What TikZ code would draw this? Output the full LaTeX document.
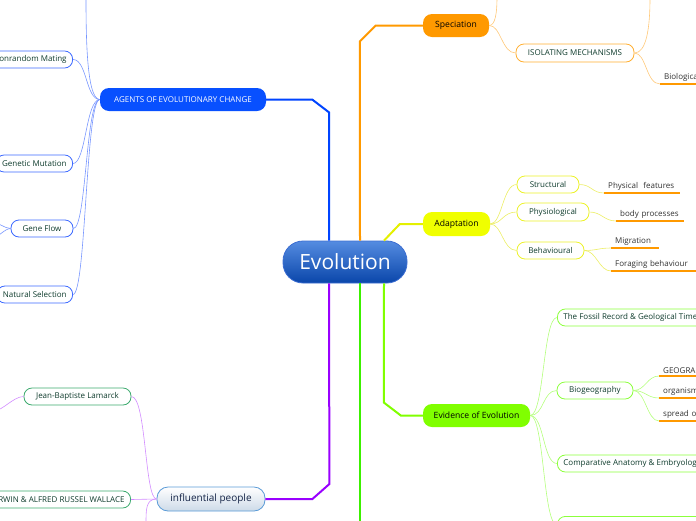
\documentclass[tikz,border=0pt]{standalone}
\usepackage{fontspec}
\setmainfont{Open Sans}
\setsansfont{Open Sans}
\usepackage{tikz}
\definecolor{cagent}{RGB}{8,80,255}
\definecolor{cagentln}{RGB}{0,68,255}
\definecolor{cagenttw}{RGB}{120,150,255}
\definecolor{cagentbd}{RGB}{60,105,255}
\definecolor{cspec}{RGB}{255,153,0}
\definecolor{cspectw}{RGB}{255,200,120}
\definecolor{cspecbd}{RGB}{255,175,50}
\definecolor{cadapt}{RGB}{240,255,0}
\definecolor{cadaptln}{RGB}{228,240,0}
\definecolor{cadapttw}{RGB}{236,238,100}
\definecolor{cadaptbd}{RGB}{236,242,40}
\definecolor{cevid}{RGB}{128,255,0}
\definecolor{cevidtw}{RGB}{180,255,125}
\definecolor{cevidbd}{RGB}{140,255,60}
\definecolor{cgreen}{RGB}{60,240,0}
\definecolor{cppl}{RGB}{153,0,255}
\definecolor{cppltw}{RGB}{210,140,255}
\definecolor{cpplbd}{RGB}{60,170,110}
\definecolor{cdark}{RGB}{15,60,45}
\definecolor{cleaf}{RGB}{50,50,50}
\definecolor{cevtop}{RGB}{85,140,225}
\definecolor{cevbot}{RGB}{10,70,170}
\definecolor{cevln}{RGB}{60,110,210}
\definecolor{cipbot}{RGB}{205,218,232}
\definecolor{cipln}{RGB}{90,155,215}
\definecolor{cnavy}{RGB}{20,35,70}

\begin{document}
\begin{tikzpicture}[
  x=1pt,y=-1pt,
  font=\fontsize{8}{9.5}\selectfont,
  root/.style={top color=cevtop,bottom color=cevbot,draw=cevln,line width=0.8pt,text=white,
    font=\fontsize{21}{25}\selectfont,rounded corners=20pt,minimum width=124pt,minimum height=42pt},
  topic/.style={rounded corners=9pt,minimum height=23pt,inner xsep=6pt,font=\fontsize{8.6}{10}\selectfont},
  sub/.style={draw=#1,line width=0.8pt,fill=white,rounded corners=8pt,minimum height=17pt,
    text=cdark,inner xsep=6pt},
  leaf/.style={text width=#1,align=left,inner xsep=4pt,inner ysep=2.5pt,text=cleaf,anchor=south west},
  trunk/.style={line width=2pt},
  twig/.style={line width=0.6pt},
  uline/.style={cspec,line width=1.2pt},
]
\useasboundingbox (0,0) rectangle (696,520);
\clip (0,0) rectangle (696,520);

% central topic and main branches
\node[root] (evo) at (345,262) {Evolution};
\node[topic,fill=cagent,text=white,minimum width=166pt,font=\fontsize{8}{9.5}\selectfont] (ag) at (183,99.5) {AGENTS OF EVOLUTIONARY CHANGE};
\node[topic,fill=cspec,minimum width=66pt] (sp) at (456,25.5) {Speciation};
\node[topic,fill=cadapt,minimum width=67pt,minimum height=24pt] (ad) at (456.5,224) {Adaptation};
\node[topic,fill=cevid,minimum width=107pt] (ev) at (476.5,415.5) {Evidence of Evolution};
\node[topic,top color=white,bottom color=cipbot,draw=cipln,line width=0.8pt,rounded corners=11pt,
  minimum width=108pt,minimum height=24pt,text=cnavy,font=\fontsize{10}{12}\selectfont] (ip) at (211,499) {influential people};

% agents of change
\node[sub=cagentbd,anchor=east] (nm) at (73,59.5) {Nonrandom Mating};
\node[sub=cagentbd,anchor=east] (gm) at (73,163.5) {Genetic Mutation};
\node[sub=cagentbd,minimum width=62pt] (gf) at (42,228.5) {Gene Flow};
\node[sub=cagentbd,anchor=east] (ns) at (73,294.5) {Natural Selection};
\coordinate (atop) at (86,-2);
\coordinate (gfa) at (-8,222);
\coordinate (gfb) at (-8,238);

% speciation
\node[sub=cspecbd,minimum width=118pt,minimum height=18pt] (iso) at (575,53) {ISOLATING MECHANISMS};
\node[leaf=60pt] (bio) at (660,84) {Biological};
\coordinate (stop) at (497,-2);
\coordinate (itop) at (650,-2);

% adaptation
\node[sub=cadaptbd,minimum width=62pt] (st) at (548,184.5) {Structural};
\node[sub=cadaptbd,minimum width=72pt,minimum height=18pt] (ph) at (553,212) {Physiological};
\node[sub=cadaptbd,minimum width=67pt] (be) at (550.5,250.5) {Behavioural};
\node[leaf=68pt] (phf) at (604,193) {Physical~ features};
\node[leaf=60pt] (bod) at (616,221) {body processes};
\node[leaf=40pt] (mig) at (611,248) {Migration};
\node[leaf=81pt] (frg) at (611,271) {Foraging behaviour};

% evidence
\node[sub=cevidbd,anchor=west] (fos) at (557,317.5) {The Fossil Record \& Geological Time Scale};
\node[sub=cevidbd,minimum width=76pt] (bg) at (595,390.5) {Biogeography};
\node[sub=cevidbd,anchor=west] (cmp) at (557,463.5) {Comparative Anatomy \& Embryology};
\node[sub=cevidbd,anchor=north west,minimum width=150pt] (ev4) at (557,516) {};
\node[leaf=60pt] (geo) at (659,376) {GEOGRAPHIC};
\node[leaf=60pt] (org) at (659,398) {organisms};
\node[leaf=60pt] (spr) at (659,421) {spread of};

% people
\node[sub=cpplbd,minimum width=107pt] (lam) at (77.5,396.5) {Jean-Baptiste Lamarck};
\node[sub=cpplbd,anchor=east] (dw) at (131,499.5) {CHARLES DARWIN \& ALFRED RUSSEL WALLACE};
\coordinate (lamw) at (-6,411);
\coordinate (pdn) at (146,525);
\coordinate (gdn) at (360,525);

% main branches
\draw[trunk,cagentln] (ag.east) -- ++(46,0) -- ++(17,13) -- ([xshift=-16pt]evo.north);
\draw[trunk,cspec] (sp.west) -- ++(-47,0) -- ++(-16,16) -- ([xshift=15pt]evo.north);
\draw[trunk,cadaptln] (ad.west) -- ++(-23,0) -- ([xshift=39pt]evo.north);
\draw[trunk,cppl] (ip.east) -- ++(47,0) -- ++(17,-15) -- ([xshift=-16pt]evo.south);
\draw[trunk,cgreen] ([xshift=15pt]evo.south) -- (gdn);
\draw[trunk,cevid] (ev.west) -- ++(-22,0) -- ++(-17,-13) -- ([xshift=39pt]evo.south);

% agents twigs
\draw[twig,cagenttw] (ag.west) .. controls +(-13,0) and +(0,40) .. (atop);
\draw[twig,cagenttw] (ag.west) .. controls +(-14,0) and +(14,0) .. (nm.east);
\draw[twig,cagenttw] (ag.west) .. controls +(-14,0) and +(13,0) .. (gm.east);
\draw[twig,cagenttw] (ag.west) .. controls +(-14,0) and +(13,0) .. (gf.east);
\draw[twig,cagenttw] (ag.west) .. controls +(-14,0) and +(13,0) .. (ns.east);
\draw[twig,cagenttw] (gf.west) .. controls +(-6,0) and +(6,0) .. (gfa);
\draw[twig,cagenttw] (gf.west) .. controls +(-6,0) and +(6,0) .. (gfb);

% speciation twigs
\draw[twig,cspectw] (sp.east) .. controls +(6,0) and +(0,15) .. (stop);
\draw[twig,cspectw] (sp.east) .. controls +(12,0) and +(-14,0) .. (iso.west);
\draw[twig,cspectw] (iso.east) .. controls +(12,0) and +(0,30) .. (itop);
\draw[twig,cspectw] (iso.east) .. controls +(12,0) and +(-14,0) .. (bio.south west);

% adaptation twigs
\draw[twig,cadapttw] (ad.east) .. controls +(12,0) and +(-14,0) .. (st.west);
\draw[twig,cadapttw] (ad.east) .. controls +(12,0) and +(-14,0) .. (ph.west);
\draw[twig,cadapttw] (ad.east) .. controls +(12,0) and +(-14,0) .. (be.west);
\draw[twig,cadapttw] (st.east) .. controls +(12,0) and +(-12,0) .. (phf.south west);
\draw[twig,cadapttw] (ph.east) .. controls +(12,0) and +(-12,0) .. (bod.south west);
\draw[twig,cadapttw] (be.east) .. controls +(12,0) and +(-12,0) .. (mig.south west);
\draw[twig,cadapttw] (be.east) .. controls +(12,0) and +(-12,0) .. (frg.south west);

% evidence twigs
\draw[twig,cevidtw] (ev.east) .. controls +(14,0) and +(-14,0) .. (fos.west);
\draw[twig,cevidtw] (ev.east) .. controls +(14,0) and +(-14,0) .. (bg.west);
\draw[twig,cevidtw] (ev.east) .. controls +(14,0) and +(-14,0) .. (cmp.west);
\draw[twig,cevidtw] (ev.east) .. controls +(14,0) and +(-14,0) .. (ev4.west);
\draw[twig,cevidtw] (bg.east) .. controls +(12,0) and +(-12,0) .. (geo.south west);
\draw[twig,cevidtw] (bg.east) .. controls +(12,0) and +(-12,0) .. (org.south west);
\draw[twig,cevidtw] (bg.east) .. controls +(12,0) and +(-12,0) .. (spr.south west);

% people twigs
\draw[twig,cppltw] (ip.west) .. controls +(-12,0) and +(15,0) .. (lam.east);
\draw[twig,cppltw] (ip.west) .. controls +(-12,0) and +(12,0) .. (dw.east);
\draw[twig,cppltw] (ip.west) .. controls +(-11,0) and +(0,-15) .. (pdn);
\draw[twig,cppltw] (lam.west) .. controls +(-10,0) and +(8,0) .. (lamw);

% underlines
\draw[uline] (bio.south west) -- (bio.south east);
\draw[uline] (phf.south west) -- (phf.south east);
\draw[uline] (bod.south west) -- (bod.south east);
\draw[uline] (mig.south west) -- (mig.south east);
\draw[uline] (frg.south west) -- (frg.south east);
\draw[uline] (geo.south west) -- (geo.south east);
\draw[uline] (org.south west) -- (org.south east);
\draw[uline] (spr.south west) -- (spr.south east);
\end{tikzpicture}
\end{document}
